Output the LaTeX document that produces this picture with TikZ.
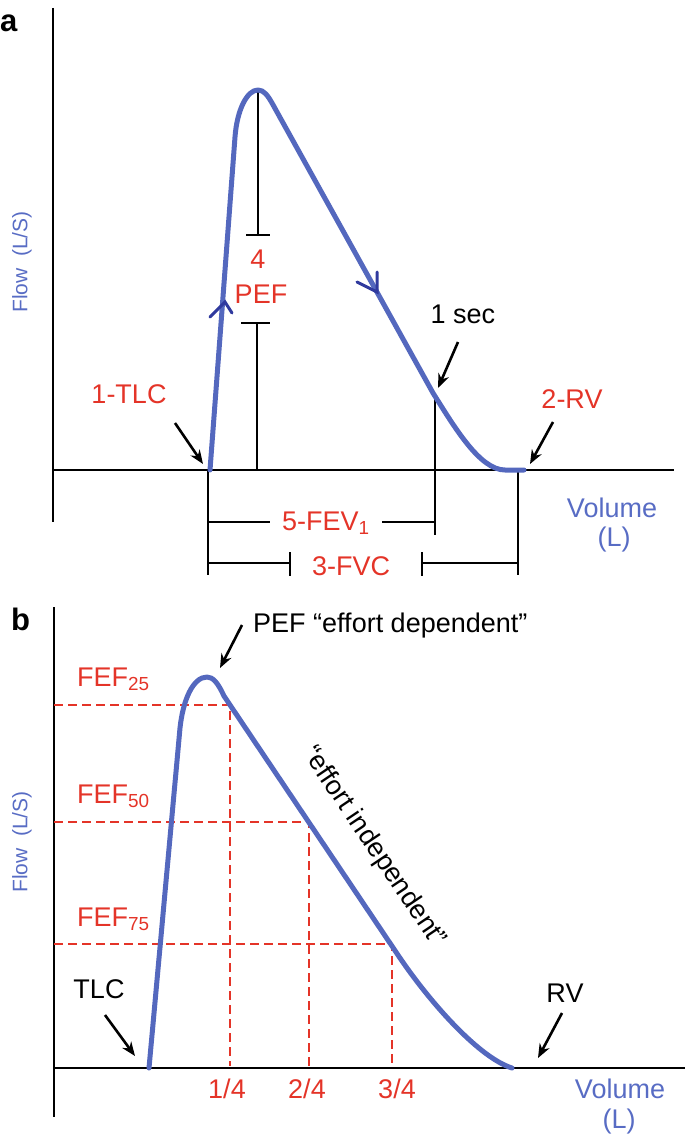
\documentclass[tikz,border=0pt]{standalone}
\usepackage{fontspec}
\setmainfont{Liberation Sans}
\usetikzlibrary{arrows.meta}
\definecolor{cblue}{RGB}{84,104,190}
\definecolor{cdark}{RGB}{48,58,158}
\definecolor{cred}{RGB}{228,52,40}
\definecolor{lblue}{RGB}{88,108,196}
\tikzset{
  curve/.style={cblue, line width=5pt, line join=round, line cap=round},
  chev/.style={cdark, line width=3pt, line cap=round, line join=miter},
  axis/.style={black, line width=2pt},
  dim/.style={black, line width=2pt},
  ptr/.style={black, line width=2.6pt, -{Stealth[length=14pt,width=11pt]}},
  fefline/.style={cred, line width=1.8pt, dash pattern=on 9pt off 5pt},
  lab/.style={font=\fontsize{27}{32}\selectfont, inner sep=0pt},
  redlab/.style={lab, text=cred},
  axlab/.style={font=\fontsize{27}{32}\selectfont, text=lblue, inner sep=0pt, align=center},
  flowlab/.style={font=\fontsize{21}{25}\selectfont, text=lblue, inner sep=0pt, rotate=90},
  panel/.style={font=\fontsize{31}{36}\selectfont\bfseries, inner sep=0pt}
}
\begin{document}
\begin{tikzpicture}[x=1pt,y=-1pt]
\useasboundingbox (0,0) rectangle (685,1137);
% ================= panel a =================
\node[panel, anchor=base west] (pa) at (0,32) {a};
\draw[axis] (53,8) -- (53,522);
\draw[axis] (53,470) -- (674,470);
\node[flowlab] (flowa) at (22,262) {Flow\ \ (L/S)};
% PEF bars
\draw[dim] (258,90) -- (258,235);
\draw[dim] (246,235) -- (270,235);
\draw[dim] (257,323) -- (257,470);
\draw[dim] (241,323) -- (270,323);
% 1 sec line and dimension lines
\draw[dim] (435,397) -- (435,535);
\draw[dim] (208,470) -- (208,575);
\draw[dim] (518,470) -- (518,575);
\draw[dim] (208,522) -- (270,522);
\draw[dim] (382,522) -- (435,522);
\draw[dim] (208,563) -- (290,563);
\draw[dim] (290,552) -- (290,576);
\draw[dim] (422,563) -- (518,563);
\draw[dim] (422,552) -- (422,576);
% curve
\draw[curve] (210,470) -- (235,137) .. controls (237,110) and (247,90) .. (258,90)
  .. controls (264,90) and (268,96) .. (272,103) -- (433,393)
  .. controls (455,428) and (480,470) .. (505,470) -- (524,470);
% chevrons
\draw[chev] (210,317) -- (225,302) -- (232,313);
\draw[chev] (357,282) -- (377,292) -- (377,272);
% labels
\node[redlab, anchor=base] (n4) at (258,268) {4};
\node[redlab, anchor=base] (pef) at (261,303) {PEF};
\node[lab, anchor=base] (sec) at (463,323) {1 sec};
\node[redlab, anchor=base] (tlca) at (129,403) {1-TLC};
\node[redlab, anchor=base] (rva) at (572,408) {2-RV};
\node[redlab, anchor=base west] (fev) at (282,530) {5-FEV\textsubscript{1}};
\node[redlab, anchor=base] (fvc) at (351,575) {3-FVC};
\node[axlab, anchor=base] (vola) at (612,517) {Volume};
\node[axlab, anchor=base] (la) at (614,546) {(L)};
% pointers
\coordinate (tlcA0) at (175,423); \coordinate (tlcA1) at (203,464);
\coordinate (secA0) at (458,342); \coordinate (secA1) at (438,388);
\coordinate (rvA0) at (553,422);  \coordinate (rvA1) at (530,464);
\draw[ptr] (tlcA0) -- (tlcA1);
\draw[ptr] (secA0) -- (secA1);
\draw[ptr] (rvA0) -- (rvA1);
% ================= panel b =================
\node[panel, anchor=base west] (pb) at (11,630) {b};
\draw[axis] (54,607) -- (54,1117);
\draw[axis] (54,1068) -- (685,1068);
\node[flowlab] (flowb) at (22,842) {Flow\ \ (L/S)};
% dashed
\draw[fefline] (54,705) -- (230,705) -- (230,1066);
\draw[fefline] (54,822) -- (309,822) -- (309,1066);
\draw[fefline] (54,944) -- (392,944) -- (392,1066);
% curve
\draw[curve] (149,1068) -- (180,728) .. controls (183,700) and (193,677) .. (207,677)
  .. controls (213,677) and (218,683) .. (224,696) -- (400,958)
  .. controls (432,1005) and (480,1058) .. (512,1068);
% labels
\node[redlab, anchor=base west] (f25) at (77,686) {FEF\textsubscript{25}};
\node[redlab, anchor=base west] (f50) at (77,803) {FEF\textsubscript{50}};
\node[redlab, anchor=base west] (f75) at (77,926) {FEF\textsubscript{75}};
\node[lab, anchor=base west] (pefb) at (253,632) {PEF “effort dependent”};
\node[lab, anchor=base, rotate=-56] (indep) at (368,851) {“effort independent”};
\node[lab, anchor=base] (tlcb) at (99,998) {TLC};
\node[lab, anchor=base] (rvb) at (565,1002) {RV};
\node[redlab, anchor=base] (q1) at (227,1098) {1/4};
\node[redlab, anchor=base] (q2) at (307,1098) {2/4};
\node[redlab, anchor=base] (q3) at (397,1098) {3/4};
\node[axlab, anchor=base] (volb) at (620,1098) {Volume};
\node[axlab, anchor=base] (lb) at (619,1128) {(L)};
% pointers
\coordinate (pefB0) at (242,625); \coordinate (pefB1) at (220,668);
\coordinate (tlcB0) at (105,1015); \coordinate (tlcB1) at (135,1056);
\coordinate (rvB0) at (562,1013); \coordinate (rvB1) at (538,1058);
\draw[ptr] (pefB0) -- (pefB1);
\draw[ptr] (tlcB0) -- (tlcB1);
\draw[ptr] (rvB0) -- (rvB1);
\end{tikzpicture}
\end{document}
